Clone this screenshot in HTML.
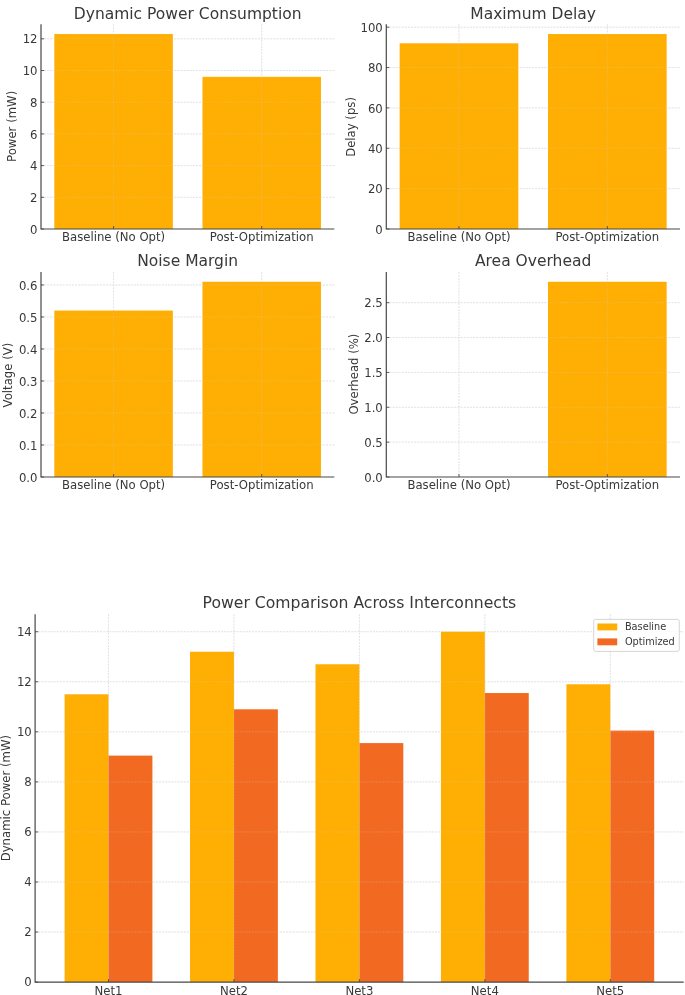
<!DOCTYPE html>
<html lang="en"><head><meta charset="utf-8"><title>Optimization results</title>
<style>
html,body{margin:0;padding:0;background:#fff;}
body{width:685px;height:995px;overflow:hidden;}
svg{display:block;font-family:"DejaVu Sans","Liberation Sans",sans-serif;fill:#383838;filter:blur(0.5px);}
</style></head><body>
<svg width="685" height="995" viewBox="0 0 685 995">
<rect x="0" y="0" width="685" height="995" fill="#fff"/>
<line x1="41" y1="197.3" x2="334.3" y2="197.3" stroke="#d7d7d7" stroke-width="0.65" stroke-dasharray="1.9 1.2" opacity="1"/>
<line x1="41" y1="165.6" x2="334.3" y2="165.6" stroke="#d7d7d7" stroke-width="0.65" stroke-dasharray="1.9 1.2" opacity="1"/>
<line x1="41" y1="133.9" x2="334.3" y2="133.9" stroke="#d7d7d7" stroke-width="0.65" stroke-dasharray="1.9 1.2" opacity="1"/>
<line x1="41" y1="102.2" x2="334.3" y2="102.2" stroke="#d7d7d7" stroke-width="0.65" stroke-dasharray="1.9 1.2" opacity="1"/>
<line x1="41" y1="70.5" x2="334.3" y2="70.5" stroke="#d7d7d7" stroke-width="0.65" stroke-dasharray="1.9 1.2" opacity="1"/>
<line x1="41" y1="38.8" x2="334.3" y2="38.8" stroke="#d7d7d7" stroke-width="0.65" stroke-dasharray="1.9 1.2" opacity="1"/>
<line x1="113.58" y1="24.3" x2="113.58" y2="229" stroke="#d7d7d7" stroke-width="0.65" stroke-dasharray="1.9 1.2" opacity="1"/>
<line x1="261.72" y1="24.3" x2="261.72" y2="229" stroke="#d7d7d7" stroke-width="0.65" stroke-dasharray="1.9 1.2" opacity="1"/>
<rect x="54.33" y="34.05" width="118.51" height="194.95" fill="#ffae03"/>
<rect x="202.46" y="76.84" width="118.51" height="152.16" fill="#ffae03"/>
<line x1="41" y1="197.3" x2="334.3" y2="197.3" stroke="#d7d7d7" stroke-width="0.65" stroke-dasharray="1.9 1.2" opacity="0.35"/>
<line x1="41" y1="165.6" x2="334.3" y2="165.6" stroke="#d7d7d7" stroke-width="0.65" stroke-dasharray="1.9 1.2" opacity="0.35"/>
<line x1="41" y1="133.9" x2="334.3" y2="133.9" stroke="#d7d7d7" stroke-width="0.65" stroke-dasharray="1.9 1.2" opacity="0.35"/>
<line x1="41" y1="102.2" x2="334.3" y2="102.2" stroke="#d7d7d7" stroke-width="0.65" stroke-dasharray="1.9 1.2" opacity="0.35"/>
<line x1="41" y1="70.5" x2="334.3" y2="70.5" stroke="#d7d7d7" stroke-width="0.65" stroke-dasharray="1.9 1.2" opacity="0.35"/>
<line x1="41" y1="38.8" x2="334.3" y2="38.8" stroke="#d7d7d7" stroke-width="0.65" stroke-dasharray="1.9 1.2" opacity="0.35"/>
<line x1="113.58" y1="24.3" x2="113.58" y2="229" stroke="#d7d7d7" stroke-width="0.65" stroke-dasharray="1.9 1.2" opacity="0.35"/>
<line x1="261.72" y1="24.3" x2="261.72" y2="229" stroke="#d7d7d7" stroke-width="0.65" stroke-dasharray="1.9 1.2" opacity="0.35"/>
<path d="M41 24.3V229H334.3" fill="none" stroke="#484848" stroke-width="1.2"/>
<line x1="41" y1="229" x2="44" y2="229" stroke="#484848" stroke-width="0.9"/>
<line x1="41" y1="197.3" x2="44" y2="197.3" stroke="#484848" stroke-width="0.9"/>
<line x1="41" y1="165.6" x2="44" y2="165.6" stroke="#484848" stroke-width="0.9"/>
<line x1="41" y1="133.9" x2="44" y2="133.9" stroke="#484848" stroke-width="0.9"/>
<line x1="41" y1="102.2" x2="44" y2="102.2" stroke="#484848" stroke-width="0.9"/>
<line x1="41" y1="70.5" x2="44" y2="70.5" stroke="#484848" stroke-width="0.9"/>
<line x1="41" y1="38.8" x2="44" y2="38.8" stroke="#484848" stroke-width="0.9"/>
<line x1="113.58" y1="229" x2="113.58" y2="226" stroke="#484848" stroke-width="0.9"/>
<line x1="261.72" y1="229" x2="261.72" y2="226" stroke="#484848" stroke-width="0.9"/>
<text x="37.5" y="233.67" font-size="11.7" text-anchor="end">0</text>
<text x="37.5" y="201.97" font-size="11.7" text-anchor="end">2</text>
<text x="37.5" y="170.27" font-size="11.7" text-anchor="end">4</text>
<text x="37.5" y="138.57" font-size="11.7" text-anchor="end">6</text>
<text x="37.5" y="106.87" font-size="11.7" text-anchor="end">8</text>
<text x="37.5" y="75.17" font-size="11.7" text-anchor="end">10</text>
<text x="37.5" y="43.47" font-size="11.7" text-anchor="end">12</text>
<text x="113.58" y="241.2" font-size="11.7" text-anchor="middle">Baseline (No Opt)</text>
<text x="261.72" y="241.2" font-size="11.7" text-anchor="middle">Post-Optimization</text>
<text x="187.65" y="18.8" font-size="15.5" text-anchor="middle">Dynamic Power Consumption</text>
<text transform="translate(15.9 126.35) rotate(-90)" font-size="11.7" text-anchor="middle">Power (mW)</text>
<line x1="386.3" y1="188.64" x2="680" y2="188.64" stroke="#d7d7d7" stroke-width="0.65" stroke-dasharray="1.9 1.2" opacity="1"/>
<line x1="386.3" y1="148.27" x2="680" y2="148.27" stroke="#d7d7d7" stroke-width="0.65" stroke-dasharray="1.9 1.2" opacity="1"/>
<line x1="386.3" y1="107.91" x2="680" y2="107.91" stroke="#d7d7d7" stroke-width="0.65" stroke-dasharray="1.9 1.2" opacity="1"/>
<line x1="386.3" y1="67.55" x2="680" y2="67.55" stroke="#d7d7d7" stroke-width="0.65" stroke-dasharray="1.9 1.2" opacity="1"/>
<line x1="386.3" y1="27.19" x2="680" y2="27.19" stroke="#d7d7d7" stroke-width="0.65" stroke-dasharray="1.9 1.2" opacity="1"/>
<line x1="458.98" y1="24.3" x2="458.98" y2="229" stroke="#d7d7d7" stroke-width="0.65" stroke-dasharray="1.9 1.2" opacity="1"/>
<line x1="607.32" y1="24.3" x2="607.32" y2="229" stroke="#d7d7d7" stroke-width="0.65" stroke-dasharray="1.9 1.2" opacity="1"/>
<rect x="399.65" y="43.33" width="118.67" height="185.67" fill="#ffae03"/>
<rect x="547.98" y="34.05" width="118.67" height="194.95" fill="#ffae03"/>
<line x1="386.3" y1="188.64" x2="680" y2="188.64" stroke="#d7d7d7" stroke-width="0.65" stroke-dasharray="1.9 1.2" opacity="0.35"/>
<line x1="386.3" y1="148.27" x2="680" y2="148.27" stroke="#d7d7d7" stroke-width="0.65" stroke-dasharray="1.9 1.2" opacity="0.35"/>
<line x1="386.3" y1="107.91" x2="680" y2="107.91" stroke="#d7d7d7" stroke-width="0.65" stroke-dasharray="1.9 1.2" opacity="0.35"/>
<line x1="386.3" y1="67.55" x2="680" y2="67.55" stroke="#d7d7d7" stroke-width="0.65" stroke-dasharray="1.9 1.2" opacity="0.35"/>
<line x1="386.3" y1="27.19" x2="680" y2="27.19" stroke="#d7d7d7" stroke-width="0.65" stroke-dasharray="1.9 1.2" opacity="0.35"/>
<line x1="458.98" y1="24.3" x2="458.98" y2="229" stroke="#d7d7d7" stroke-width="0.65" stroke-dasharray="1.9 1.2" opacity="0.35"/>
<line x1="607.32" y1="24.3" x2="607.32" y2="229" stroke="#d7d7d7" stroke-width="0.65" stroke-dasharray="1.9 1.2" opacity="0.35"/>
<path d="M386.3 24.3V229H680" fill="none" stroke="#484848" stroke-width="1.2"/>
<line x1="386.3" y1="229" x2="389.3" y2="229" stroke="#484848" stroke-width="0.9"/>
<line x1="386.3" y1="188.64" x2="389.3" y2="188.64" stroke="#484848" stroke-width="0.9"/>
<line x1="386.3" y1="148.27" x2="389.3" y2="148.27" stroke="#484848" stroke-width="0.9"/>
<line x1="386.3" y1="107.91" x2="389.3" y2="107.91" stroke="#484848" stroke-width="0.9"/>
<line x1="386.3" y1="67.55" x2="389.3" y2="67.55" stroke="#484848" stroke-width="0.9"/>
<line x1="386.3" y1="27.19" x2="389.3" y2="27.19" stroke="#484848" stroke-width="0.9"/>
<line x1="458.98" y1="229" x2="458.98" y2="226" stroke="#484848" stroke-width="0.9"/>
<line x1="607.32" y1="229" x2="607.32" y2="226" stroke="#484848" stroke-width="0.9"/>
<text x="382.8" y="233.67" font-size="11.7" text-anchor="end">0</text>
<text x="382.8" y="193.31" font-size="11.7" text-anchor="end">20</text>
<text x="382.8" y="152.94" font-size="11.7" text-anchor="end">40</text>
<text x="382.8" y="112.58" font-size="11.7" text-anchor="end">60</text>
<text x="382.8" y="72.22" font-size="11.7" text-anchor="end">80</text>
<text x="382.8" y="31.86" font-size="11.7" text-anchor="end">100</text>
<text x="458.98" y="241.2" font-size="11.7" text-anchor="middle">Baseline (No Opt)</text>
<text x="607.32" y="241.2" font-size="11.7" text-anchor="middle">Post-Optimization</text>
<text x="533.15" y="18.8" font-size="15.5" text-anchor="middle">Maximum Delay</text>
<text transform="translate(354.5 126.95) rotate(-90)" font-size="11.7" text-anchor="middle">Delay (ps)</text>
<line x1="41" y1="444.99" x2="334.3" y2="444.99" stroke="#d7d7d7" stroke-width="0.65" stroke-dasharray="1.9 1.2" opacity="1"/>
<line x1="41" y1="412.99" x2="334.3" y2="412.99" stroke="#d7d7d7" stroke-width="0.65" stroke-dasharray="1.9 1.2" opacity="1"/>
<line x1="41" y1="380.98" x2="334.3" y2="380.98" stroke="#d7d7d7" stroke-width="0.65" stroke-dasharray="1.9 1.2" opacity="1"/>
<line x1="41" y1="348.98" x2="334.3" y2="348.98" stroke="#d7d7d7" stroke-width="0.65" stroke-dasharray="1.9 1.2" opacity="1"/>
<line x1="41" y1="316.97" x2="334.3" y2="316.97" stroke="#d7d7d7" stroke-width="0.65" stroke-dasharray="1.9 1.2" opacity="1"/>
<line x1="41" y1="284.96" x2="334.3" y2="284.96" stroke="#d7d7d7" stroke-width="0.65" stroke-dasharray="1.9 1.2" opacity="1"/>
<line x1="113.58" y1="272" x2="113.58" y2="477" stroke="#d7d7d7" stroke-width="0.65" stroke-dasharray="1.9 1.2" opacity="1"/>
<line x1="261.72" y1="272" x2="261.72" y2="477" stroke="#d7d7d7" stroke-width="0.65" stroke-dasharray="1.9 1.2" opacity="1"/>
<rect x="54.33" y="310.57" width="118.51" height="166.43" fill="#ffae03"/>
<rect x="202.46" y="281.76" width="118.51" height="195.24" fill="#ffae03"/>
<line x1="41" y1="444.99" x2="334.3" y2="444.99" stroke="#d7d7d7" stroke-width="0.65" stroke-dasharray="1.9 1.2" opacity="0.35"/>
<line x1="41" y1="412.99" x2="334.3" y2="412.99" stroke="#d7d7d7" stroke-width="0.65" stroke-dasharray="1.9 1.2" opacity="0.35"/>
<line x1="41" y1="380.98" x2="334.3" y2="380.98" stroke="#d7d7d7" stroke-width="0.65" stroke-dasharray="1.9 1.2" opacity="0.35"/>
<line x1="41" y1="348.98" x2="334.3" y2="348.98" stroke="#d7d7d7" stroke-width="0.65" stroke-dasharray="1.9 1.2" opacity="0.35"/>
<line x1="41" y1="316.97" x2="334.3" y2="316.97" stroke="#d7d7d7" stroke-width="0.65" stroke-dasharray="1.9 1.2" opacity="0.35"/>
<line x1="41" y1="284.96" x2="334.3" y2="284.96" stroke="#d7d7d7" stroke-width="0.65" stroke-dasharray="1.9 1.2" opacity="0.35"/>
<line x1="113.58" y1="272" x2="113.58" y2="477" stroke="#d7d7d7" stroke-width="0.65" stroke-dasharray="1.9 1.2" opacity="0.35"/>
<line x1="261.72" y1="272" x2="261.72" y2="477" stroke="#d7d7d7" stroke-width="0.65" stroke-dasharray="1.9 1.2" opacity="0.35"/>
<path d="M41 272V477H334.3" fill="none" stroke="#484848" stroke-width="1.2"/>
<line x1="41" y1="477" x2="44" y2="477" stroke="#484848" stroke-width="0.9"/>
<line x1="41" y1="444.99" x2="44" y2="444.99" stroke="#484848" stroke-width="0.9"/>
<line x1="41" y1="412.99" x2="44" y2="412.99" stroke="#484848" stroke-width="0.9"/>
<line x1="41" y1="380.98" x2="44" y2="380.98" stroke="#484848" stroke-width="0.9"/>
<line x1="41" y1="348.98" x2="44" y2="348.98" stroke="#484848" stroke-width="0.9"/>
<line x1="41" y1="316.97" x2="44" y2="316.97" stroke="#484848" stroke-width="0.9"/>
<line x1="41" y1="284.96" x2="44" y2="284.96" stroke="#484848" stroke-width="0.9"/>
<line x1="113.58" y1="477" x2="113.58" y2="474" stroke="#484848" stroke-width="0.9"/>
<line x1="261.72" y1="477" x2="261.72" y2="474" stroke="#484848" stroke-width="0.9"/>
<text x="37.5" y="481.67" font-size="11.7" text-anchor="end">0.0</text>
<text x="37.5" y="449.66" font-size="11.7" text-anchor="end">0.1</text>
<text x="37.5" y="417.66" font-size="11.7" text-anchor="end">0.2</text>
<text x="37.5" y="385.65" font-size="11.7" text-anchor="end">0.3</text>
<text x="37.5" y="353.65" font-size="11.7" text-anchor="end">0.4</text>
<text x="37.5" y="321.64" font-size="11.7" text-anchor="end">0.5</text>
<text x="37.5" y="289.63" font-size="11.7" text-anchor="end">0.6</text>
<text x="113.58" y="489.2" font-size="11.7" text-anchor="middle">Baseline (No Opt)</text>
<text x="261.72" y="489.2" font-size="11.7" text-anchor="middle">Post-Optimization</text>
<text x="187.65" y="266.3" font-size="15.5" text-anchor="middle">Noise Margin</text>
<text transform="translate(11.5 375.1) rotate(-90)" font-size="11.7" text-anchor="middle">Voltage (V)</text>
<line x1="386.3" y1="442.14" x2="680" y2="442.14" stroke="#d7d7d7" stroke-width="0.65" stroke-dasharray="1.9 1.2" opacity="1"/>
<line x1="386.3" y1="407.27" x2="680" y2="407.27" stroke="#d7d7d7" stroke-width="0.65" stroke-dasharray="1.9 1.2" opacity="1"/>
<line x1="386.3" y1="372.41" x2="680" y2="372.41" stroke="#d7d7d7" stroke-width="0.65" stroke-dasharray="1.9 1.2" opacity="1"/>
<line x1="386.3" y1="337.54" x2="680" y2="337.54" stroke="#d7d7d7" stroke-width="0.65" stroke-dasharray="1.9 1.2" opacity="1"/>
<line x1="386.3" y1="302.68" x2="680" y2="302.68" stroke="#d7d7d7" stroke-width="0.65" stroke-dasharray="1.9 1.2" opacity="1"/>
<line x1="458.98" y1="272" x2="458.98" y2="477" stroke="#d7d7d7" stroke-width="0.65" stroke-dasharray="1.9 1.2" opacity="1"/>
<line x1="607.32" y1="272" x2="607.32" y2="477" stroke="#d7d7d7" stroke-width="0.65" stroke-dasharray="1.9 1.2" opacity="1"/>
<rect x="547.98" y="281.76" width="118.67" height="195.24" fill="#ffae03"/>
<line x1="386.3" y1="442.14" x2="680" y2="442.14" stroke="#d7d7d7" stroke-width="0.65" stroke-dasharray="1.9 1.2" opacity="0.35"/>
<line x1="386.3" y1="407.27" x2="680" y2="407.27" stroke="#d7d7d7" stroke-width="0.65" stroke-dasharray="1.9 1.2" opacity="0.35"/>
<line x1="386.3" y1="372.41" x2="680" y2="372.41" stroke="#d7d7d7" stroke-width="0.65" stroke-dasharray="1.9 1.2" opacity="0.35"/>
<line x1="386.3" y1="337.54" x2="680" y2="337.54" stroke="#d7d7d7" stroke-width="0.65" stroke-dasharray="1.9 1.2" opacity="0.35"/>
<line x1="386.3" y1="302.68" x2="680" y2="302.68" stroke="#d7d7d7" stroke-width="0.65" stroke-dasharray="1.9 1.2" opacity="0.35"/>
<line x1="458.98" y1="272" x2="458.98" y2="477" stroke="#d7d7d7" stroke-width="0.65" stroke-dasharray="1.9 1.2" opacity="0.35"/>
<line x1="607.32" y1="272" x2="607.32" y2="477" stroke="#d7d7d7" stroke-width="0.65" stroke-dasharray="1.9 1.2" opacity="0.35"/>
<path d="M386.3 272V477H680" fill="none" stroke="#484848" stroke-width="1.2"/>
<line x1="386.3" y1="477" x2="389.3" y2="477" stroke="#484848" stroke-width="0.9"/>
<line x1="386.3" y1="442.14" x2="389.3" y2="442.14" stroke="#484848" stroke-width="0.9"/>
<line x1="386.3" y1="407.27" x2="389.3" y2="407.27" stroke="#484848" stroke-width="0.9"/>
<line x1="386.3" y1="372.41" x2="389.3" y2="372.41" stroke="#484848" stroke-width="0.9"/>
<line x1="386.3" y1="337.54" x2="389.3" y2="337.54" stroke="#484848" stroke-width="0.9"/>
<line x1="386.3" y1="302.68" x2="389.3" y2="302.68" stroke="#484848" stroke-width="0.9"/>
<line x1="458.98" y1="477" x2="458.98" y2="474" stroke="#484848" stroke-width="0.9"/>
<line x1="607.32" y1="477" x2="607.32" y2="474" stroke="#484848" stroke-width="0.9"/>
<text x="382.8" y="481.67" font-size="11.7" text-anchor="end">0.0</text>
<text x="382.8" y="446.81" font-size="11.7" text-anchor="end">0.5</text>
<text x="382.8" y="411.94" font-size="11.7" text-anchor="end">1.0</text>
<text x="382.8" y="377.08" font-size="11.7" text-anchor="end">1.5</text>
<text x="382.8" y="342.21" font-size="11.7" text-anchor="end">2.0</text>
<text x="382.8" y="307.35" font-size="11.7" text-anchor="end">2.5</text>
<text x="458.98" y="489.2" font-size="11.7" text-anchor="middle">Baseline (No Opt)</text>
<text x="607.32" y="489.2" font-size="11.7" text-anchor="middle">Post-Optimization</text>
<text x="533.15" y="266.3" font-size="15.5" text-anchor="middle">Area Overhead</text>
<text transform="translate(357.5 374.1) rotate(-90)" font-size="11.7" text-anchor="middle">Overhead (%)</text>
<line x1="35.1" y1="932.05" x2="683.7" y2="932.05" stroke="#d7d7d7" stroke-width="0.65" stroke-dasharray="1.9 1.2" opacity="1"/>
<line x1="35.1" y1="881.99" x2="683.7" y2="881.99" stroke="#d7d7d7" stroke-width="0.65" stroke-dasharray="1.9 1.2" opacity="1"/>
<line x1="35.1" y1="831.94" x2="683.7" y2="831.94" stroke="#d7d7d7" stroke-width="0.65" stroke-dasharray="1.9 1.2" opacity="1"/>
<line x1="35.1" y1="781.88" x2="683.7" y2="781.88" stroke="#d7d7d7" stroke-width="0.65" stroke-dasharray="1.9 1.2" opacity="1"/>
<line x1="35.1" y1="731.83" x2="683.7" y2="731.83" stroke="#d7d7d7" stroke-width="0.65" stroke-dasharray="1.9 1.2" opacity="1"/>
<line x1="35.1" y1="681.77" x2="683.7" y2="681.77" stroke="#d7d7d7" stroke-width="0.65" stroke-dasharray="1.9 1.2" opacity="1"/>
<line x1="35.1" y1="631.72" x2="683.7" y2="631.72" stroke="#d7d7d7" stroke-width="0.65" stroke-dasharray="1.9 1.2" opacity="1"/>
<line x1="108.5" y1="614.2" x2="108.5" y2="982.1" stroke="#d7d7d7" stroke-width="0.65" stroke-dasharray="1.9 1.2" opacity="1"/>
<line x1="233.95" y1="614.2" x2="233.95" y2="982.1" stroke="#d7d7d7" stroke-width="0.65" stroke-dasharray="1.9 1.2" opacity="1"/>
<line x1="359.4" y1="614.2" x2="359.4" y2="982.1" stroke="#d7d7d7" stroke-width="0.65" stroke-dasharray="1.9 1.2" opacity="1"/>
<line x1="484.85" y1="614.2" x2="484.85" y2="982.1" stroke="#d7d7d7" stroke-width="0.65" stroke-dasharray="1.9 1.2" opacity="1"/>
<line x1="610.3" y1="614.2" x2="610.3" y2="982.1" stroke="#d7d7d7" stroke-width="0.65" stroke-dasharray="1.9 1.2" opacity="1"/>
<rect x="64.59" y="694.29" width="43.91" height="287.81" fill="#ffae03"/>
<rect x="108.5" y="755.6" width="43.91" height="226.5" fill="#f26a21"/>
<rect x="190.04" y="651.74" width="43.91" height="330.36" fill="#ffae03"/>
<rect x="233.95" y="709.3" width="43.91" height="272.8" fill="#f26a21"/>
<rect x="315.49" y="664.25" width="43.91" height="317.85" fill="#ffae03"/>
<rect x="359.4" y="743.09" width="43.91" height="239.01" fill="#f26a21"/>
<rect x="440.94" y="631.72" width="43.91" height="350.38" fill="#ffae03"/>
<rect x="484.85" y="693.04" width="43.91" height="289.06" fill="#f26a21"/>
<rect x="566.39" y="684.28" width="43.91" height="297.82" fill="#ffae03"/>
<rect x="610.3" y="730.58" width="43.91" height="251.52" fill="#f26a21"/>
<line x1="35.1" y1="932.05" x2="683.7" y2="932.05" stroke="#d7d7d7" stroke-width="0.65" stroke-dasharray="1.9 1.2" opacity="0.35"/>
<line x1="35.1" y1="881.99" x2="683.7" y2="881.99" stroke="#d7d7d7" stroke-width="0.65" stroke-dasharray="1.9 1.2" opacity="0.35"/>
<line x1="35.1" y1="831.94" x2="683.7" y2="831.94" stroke="#d7d7d7" stroke-width="0.65" stroke-dasharray="1.9 1.2" opacity="0.35"/>
<line x1="35.1" y1="781.88" x2="683.7" y2="781.88" stroke="#d7d7d7" stroke-width="0.65" stroke-dasharray="1.9 1.2" opacity="0.35"/>
<line x1="35.1" y1="731.83" x2="683.7" y2="731.83" stroke="#d7d7d7" stroke-width="0.65" stroke-dasharray="1.9 1.2" opacity="0.35"/>
<line x1="35.1" y1="681.77" x2="683.7" y2="681.77" stroke="#d7d7d7" stroke-width="0.65" stroke-dasharray="1.9 1.2" opacity="0.35"/>
<line x1="35.1" y1="631.72" x2="683.7" y2="631.72" stroke="#d7d7d7" stroke-width="0.65" stroke-dasharray="1.9 1.2" opacity="0.35"/>
<line x1="108.5" y1="614.2" x2="108.5" y2="982.1" stroke="#d7d7d7" stroke-width="0.65" stroke-dasharray="1.9 1.2" opacity="0.35"/>
<line x1="233.95" y1="614.2" x2="233.95" y2="982.1" stroke="#d7d7d7" stroke-width="0.65" stroke-dasharray="1.9 1.2" opacity="0.35"/>
<line x1="359.4" y1="614.2" x2="359.4" y2="982.1" stroke="#d7d7d7" stroke-width="0.65" stroke-dasharray="1.9 1.2" opacity="0.35"/>
<line x1="484.85" y1="614.2" x2="484.85" y2="982.1" stroke="#d7d7d7" stroke-width="0.65" stroke-dasharray="1.9 1.2" opacity="0.35"/>
<line x1="610.3" y1="614.2" x2="610.3" y2="982.1" stroke="#d7d7d7" stroke-width="0.65" stroke-dasharray="1.9 1.2" opacity="0.35"/>
<path d="M35.1 614.2V982.1H683.7" fill="none" stroke="#484848" stroke-width="1.2"/>
<line x1="35.1" y1="982.1" x2="38.1" y2="982.1" stroke="#484848" stroke-width="0.9"/>
<text x="31.8" y="986.37" font-size="11.7" text-anchor="end">0</text>
<line x1="35.1" y1="932.05" x2="38.1" y2="932.05" stroke="#484848" stroke-width="0.9"/>
<text x="31.8" y="936.32" font-size="11.7" text-anchor="end">2</text>
<line x1="35.1" y1="881.99" x2="38.1" y2="881.99" stroke="#484848" stroke-width="0.9"/>
<text x="31.8" y="886.26" font-size="11.7" text-anchor="end">4</text>
<line x1="35.1" y1="831.94" x2="38.1" y2="831.94" stroke="#484848" stroke-width="0.9"/>
<text x="31.8" y="836.21" font-size="11.7" text-anchor="end">6</text>
<line x1="35.1" y1="781.88" x2="38.1" y2="781.88" stroke="#484848" stroke-width="0.9"/>
<text x="31.8" y="786.15" font-size="11.7" text-anchor="end">8</text>
<line x1="35.1" y1="731.83" x2="38.1" y2="731.83" stroke="#484848" stroke-width="0.9"/>
<text x="31.8" y="736.1" font-size="11.7" text-anchor="end">10</text>
<line x1="35.1" y1="681.77" x2="38.1" y2="681.77" stroke="#484848" stroke-width="0.9"/>
<text x="31.8" y="686.04" font-size="11.7" text-anchor="end">12</text>
<line x1="35.1" y1="631.72" x2="38.1" y2="631.72" stroke="#484848" stroke-width="0.9"/>
<text x="31.8" y="635.99" font-size="11.7" text-anchor="end">14</text>
<line x1="108.5" y1="982.1" x2="108.5" y2="979.1" stroke="#484848" stroke-width="0.9"/>
<text x="108.5" y="994.8" font-size="11.7" text-anchor="middle">Net1</text>
<line x1="233.95" y1="982.1" x2="233.95" y2="979.1" stroke="#484848" stroke-width="0.9"/>
<text x="233.95" y="994.8" font-size="11.7" text-anchor="middle">Net2</text>
<line x1="359.4" y1="982.1" x2="359.4" y2="979.1" stroke="#484848" stroke-width="0.9"/>
<text x="359.4" y="994.8" font-size="11.7" text-anchor="middle">Net3</text>
<line x1="484.85" y1="982.1" x2="484.85" y2="979.1" stroke="#484848" stroke-width="0.9"/>
<text x="484.85" y="994.8" font-size="11.7" text-anchor="middle">Net4</text>
<line x1="610.3" y1="982.1" x2="610.3" y2="979.1" stroke="#484848" stroke-width="0.9"/>
<text x="610.3" y="994.8" font-size="11.7" text-anchor="middle">Net5</text>
<text x="359.4" y="608.2" font-size="15.65" text-anchor="middle">Power Comparison Across Interconnects</text>
<text transform="translate(9.9 798.15) rotate(-90)" font-size="11.7" text-anchor="middle">Dynamic Power (mW)</text>
<rect x="593.7" y="619.4" width="85.6" height="32" rx="2" ry="2" fill="#fff" fill-opacity="0.8" stroke="#ccc" stroke-width="0.8"/>
<rect x="597.4" y="623.5" width="19.8" height="6.9" fill="#ffae03"/>
<rect x="597.4" y="638.4" width="19.8" height="6.9" fill="#f26a21"/>
<text x="624.9" y="630.2" font-size="9.75">Baseline</text>
<text x="624.9" y="645.1" font-size="9.75">Optimized</text>
</svg>
</body></html>
